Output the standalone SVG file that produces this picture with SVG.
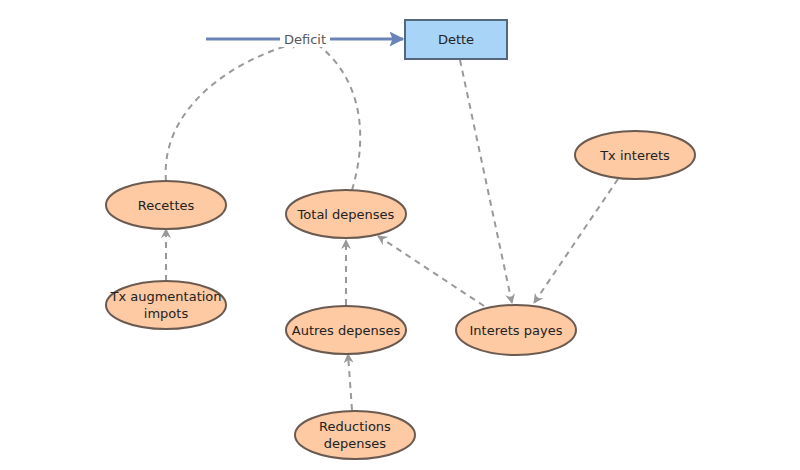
<svg xmlns="http://www.w3.org/2000/svg" width="800" height="470" viewBox="0 0 800 470">
<style>
.n ellipse{fill:#fdcaa4;stroke:#6b5a50;stroke-width:2}
text{font-family:"DejaVu Sans",sans-serif;font-size:13px;fill:#222;text-anchor:middle}
.c path{fill:none;stroke:#999;stroke-width:2;stroke-dasharray:6,5;marker-end:url(#a)}
</style>
<defs>
<marker id="a" viewBox="0 0 10 10" refX="9" refY="5" markerWidth="5" markerHeight="5" orient="auto"><path d="M0,0L10,5L0,10L3,5z" fill="#999"/></marker>
<marker id="b" viewBox="0 0 10 10" refX="9" refY="5" markerWidth="5" markerHeight="5" orient="auto"><path d="M0,0L10,5L0,10L2,5z" fill="#6a84b8"/></marker>
</defs>
<rect width="800" height="470" fill="#fff"/>
<g class="c">
<path d="M166,181 C160,110 230,60 300,42"/>
<path d="M352,190 C370,130 360,70 307,37"/>
<path d="M460,60 L512,303"/>
<path d="M618,179 L534,303"/>
<path d="M484,306 L378,236"/>
<path d="M346,305 L346,240"/>
<path d="M166,281 L166,229"/>
<path d="M352,410 L348,354"/>
<path d="M206,39 L403,39" style="stroke:#6a84b8;stroke-width:3;stroke-dasharray:none;marker-end:url(#b)"/>
</g>
<g id="deficit"><rect x="280" y="31" width="50" height="16" fill="#fff"/><text x="305" y="44" style="fill:#555">Deficit</text></g>
<g id="dette"><rect x="405" y="20" width="102" height="39" fill="#a8d4f8" stroke="#55677a" stroke-width="2"/><text x="456" y="44">Dette</text></g>
<g id="recettes" class="n"><ellipse cx="166" cy="205" rx="60" ry="24"/><text x="166" y="210">Recettes</text></g>
<g id="total" class="n"><ellipse cx="346" cy="214" rx="60" ry="24"/><text x="346" y="219">Total depenses</text></g>
<g id="txaug" class="n"><ellipse cx="166" cy="305" rx="60" ry="24"/><text x="166" y="301">Tx augmentation</text><text x="166" y="318">impots</text></g>
<g id="autres" class="n"><ellipse cx="346" cy="330" rx="60" ry="24"/><text x="346" y="335">Autres depenses</text></g>
<g id="interets" class="n"><ellipse cx="516" cy="330" rx="60" ry="25"/><text x="516" y="335">Interets payes</text></g>
<g id="txint" class="n"><ellipse cx="635" cy="155" rx="60" ry="24"/><text x="635" y="160">Tx interets</text></g>
<g id="reductions" class="n"><ellipse cx="355" cy="435" rx="60" ry="24"/><text x="355" y="431">Reductions</text><text x="355" y="448">depenses</text></g>
</svg>
